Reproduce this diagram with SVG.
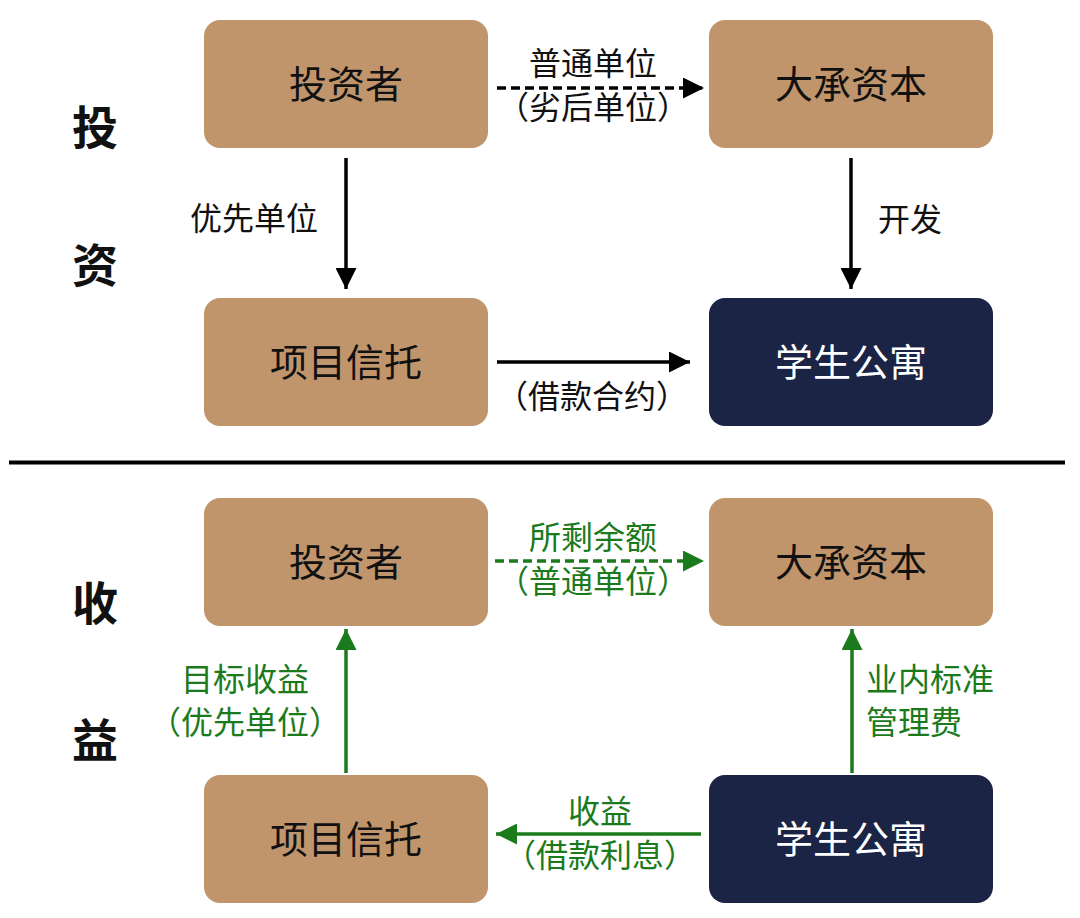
<svg xmlns="http://www.w3.org/2000/svg" width="1080" height="918" viewBox="0 0 1080 918">
<defs>
<style>
text{font-family:"Noto Sans CJK SC","Noto Sans",sans-serif;dominant-baseline:central;}
.box{fill:#C1956C;}
.dark{fill:#1B2444;}
.bt{font-size:38px;fill:#111;text-anchor:middle;}
.wt{font-size:38px;fill:#fff;text-anchor:middle;}
.side{font-size:46px;font-weight:bold;fill:#111;text-anchor:middle;}
.lb{font-size:32px;fill:#111;text-anchor:middle;}
.lg{font-size:32px;fill:#1B7A1B;text-anchor:middle;}
.k{stroke:#000;stroke-width:3.5;fill:none;}
.g{stroke:#1B7A1B;stroke-width:3.5;fill:none;}
.dash{stroke-dasharray:9 5;}
</style>
<marker id="ak" viewBox="0 0 10 10" refX="10" refY="5" markerWidth="6" markerHeight="6" markerUnits="strokeWidth" orient="auto"><path d="M0,0 L10,5 L0,10 z" fill="#000"/></marker>
<marker id="ag" viewBox="0 0 10 10" refX="10" refY="5" markerWidth="6" markerHeight="6" markerUnits="strokeWidth" orient="auto"><path d="M0,0 L10,5 L0,10 z" fill="#1B7A1B"/></marker>
</defs>
<rect width="1080" height="918" fill="#fff"/>
<g id="side-labels">
<text class="side" x="95" y="124">投</text>
<text class="side" x="95" y="262">资</text>
<text class="side" x="95" y="600">收</text>
<text class="side" x="95" y="737">益</text>
</g>
<line id="divider" x1="9" y1="462.5" x2="1065" y2="462.5" stroke="#000" stroke-width="4"/>
<g id="n1"><rect class="box" x="204" y="20" width="284" height="128" rx="16"/><text class="bt" x="346" y="81">投资者</text></g>
<g id="n2"><rect class="box" x="709" y="20" width="284" height="128" rx="16"/><text class="bt" x="851" y="81">大承资本</text></g>
<g id="n3"><rect class="box" x="204" y="298" width="284" height="128" rx="16"/><text class="bt" x="346" y="359">项目信托</text></g>
<g id="n4"><rect class="dark" x="709" y="298" width="284" height="128" rx="16"/><text class="wt" x="851" y="359">学生公寓</text></g>
<g id="n5"><rect class="box" x="204" y="498" width="284" height="128" rx="16"/><text class="bt" x="346" y="559">投资者</text></g>
<g id="n6"><rect class="box" x="709" y="498" width="284" height="128" rx="16"/><text class="bt" x="851" y="559">大承资本</text></g>
<g id="n7"><rect class="box" x="204" y="775" width="284" height="128" rx="16"/><text class="bt" x="346" y="836">项目信托</text></g>
<g id="n8"><rect class="dark" x="709" y="775" width="284" height="128" rx="16"/><text class="wt" x="851" y="836">学生公寓</text></g>
<g id="connectors">
<line class="k dash" x1="497" y1="88" x2="704" y2="88" marker-end="url(#ak)"/>
<text class="lb" x="593" y="61">普通单位</text>
<text class="lb" x="593" y="105">（劣后单位）</text>
<line class="k" x1="346" y1="158" x2="346" y2="289" marker-end="url(#ak)"/>
<text class="lb" x="254" y="216">优先单位</text>
<line class="k" x1="851" y1="158" x2="851" y2="289" marker-end="url(#ak)"/>
<text class="lb" x="910" y="217">开发</text>
<line class="k" x1="497" y1="362" x2="690" y2="362" marker-end="url(#ak)"/>
<text class="lb" x="592" y="394">（借款合约）</text>
<line class="g dash" x1="495" y1="561" x2="704" y2="561" marker-end="url(#ag)"/>
<text class="lg" x="593" y="535">所剩余额</text>
<text class="lg" x="593" y="579">（普通单位）</text>
<line class="g" x1="346" y1="773" x2="346" y2="629" marker-end="url(#ag)"/>
<text class="lg" x="245" y="677">目标收益</text>
<text class="lg" x="245" y="720">（优先单位）</text>
<line class="g" x1="852" y1="773" x2="852" y2="629" marker-end="url(#ag)"/>
<text class="lg" x="866" y="677" style="text-anchor:start">业内标准</text>
<text class="lg" x="866" y="720" style="text-anchor:start">管理费</text>
<line class="g" x1="701" y1="834" x2="496" y2="834" marker-end="url(#ag)"/>
<text class="lg" x="600" y="809">收益</text>
<text class="lg" x="600" y="853">（借款利息）</text>
</g>
</svg>
